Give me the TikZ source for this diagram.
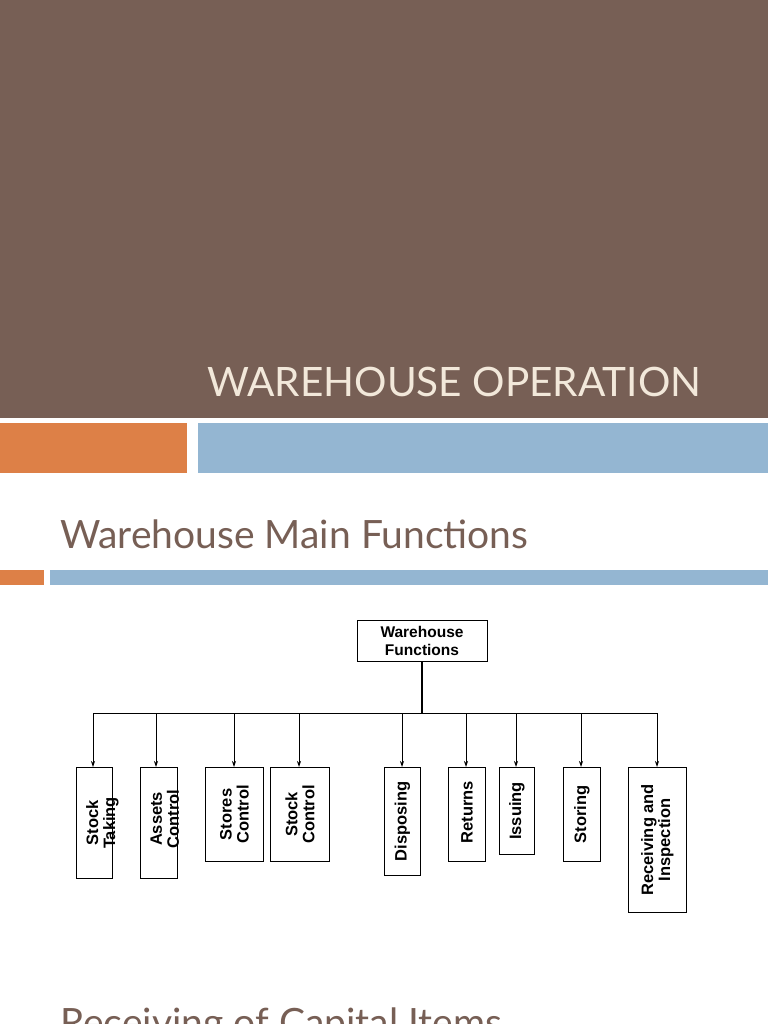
\documentclass[tikz,border=0pt]{standalone}
\usepackage{fontspec}
\setmainfont{Liberation Sans}
\newfontfamily\ttl{Lato}
\usetikzlibrary{arrows.meta}
\definecolor{brn}{HTML}{775F55}
\definecolor{org}{HTML}{DD8047}
\definecolor{blu}{HTML}{94B6D2}
\definecolor{crm}{HTML}{F2E8DA}
\begin{document}
\begin{tikzpicture}[x=1pt,y=-1pt,
 box/.style={draw=black,fill=white,line width=0.8pt,inner sep=0pt},
 lbl/.style={rotate=90,font=\bfseries\fontsize{16.5}{17}\selectfont,align=center},
 arr/.style={-{Stealth[length=6pt,width=4pt]},line width=0.8pt}]
\useasboundingbox (0,0) rectangle (768,1024);
\fill[white] (0,0) rectangle (768,1024);
\fill[brn] (0,0) rectangle (768,418);
\fill[org] (0,423) rectangle (187,473);
\fill[blu] (198,423) rectangle (768,473);
\fill[org] (0,570) rectangle (44,585);
\fill[blu] (50,570) rectangle (768,585);
\node[anchor=base west,text=crm,font=\ttl\fontsize{40.5}{44}\selectfont,inner sep=0] (t) at (207,396) {WAREHOUSE OPERATION};
\node[anchor=base west,text=brn,font=\ttl\fontsize{39}{40}\selectfont,inner sep=0] (h) at (60,548) {Warehouse Main Functions};
\node[anchor=base west,text=brn,font=\ttl\fontsize{39}{40}\selectfont,inner sep=0] (h2) at (60,1036) {Receiving of Capital Items};
\node[box,minimum width=130pt,minimum height=41pt,font=\bfseries\fontsize{15.5}{18}\selectfont,align=center] (top) at (422,640.5) {Warehouse\\Functions};
\coordinate (j) at (422,713);
\draw[line width=1.2pt] (top.south) -- (j);
\draw[line width=0.8pt] (93,713) -- (657,713);
\foreach \n/\xa/\xb/\yb/\ax/\txt/\dy/\dx in {
 a/76/112/878/93/{Stock\\Taking}/0/8,
 b/140/177/878/156/{Assets\\Control}/4/6,
 c/205/263/861/234/{Stores\\Control}/0/0,
 d/270/329/861/299/{Stock\\Control}/0/0,
 e/384/420/875/402/{Disposing}/0/0,
 f/448/485/861/466/{Returns}/2/0,
 g/499/534/854/516/{Issuing}/0/0,
 h/563/600/861/581/{Storing}/0/0,
 i/628/686/912/657/{Receiving and\\Inspection}/0/0}{
 \node[box,minimum width=\xb-\xa,minimum height=\yb-767,anchor=north west] (\n) at (\xa,767) {};
 \node[lbl] (\n t) at ([yshift=\dy,xshift=\dx]\n.center) {\txt};
 \coordinate (\n c) at (\ax,713);
 \draw[arr] (\n c) -- (\ax,767);
}
\end{tikzpicture}
\end{document}
